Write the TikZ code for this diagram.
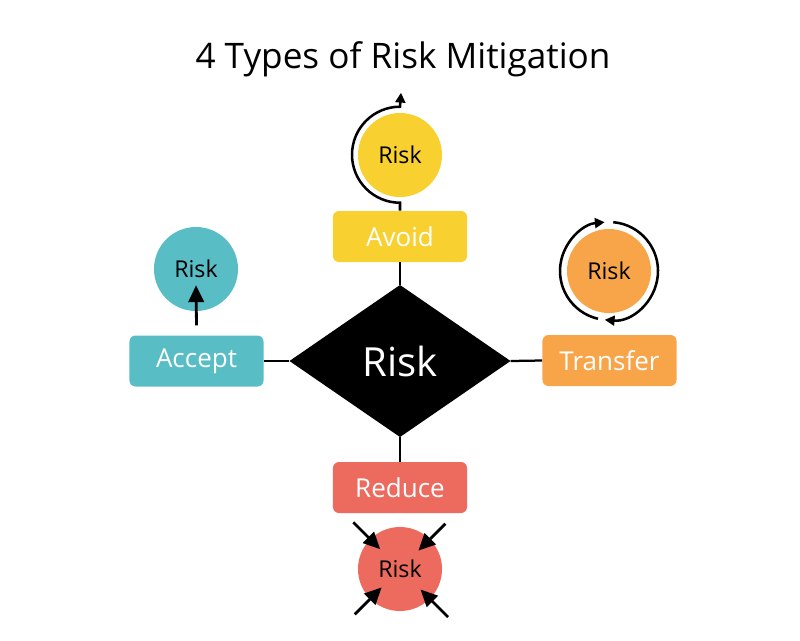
\documentclass[tikz,border=0pt]{standalone}
\usepackage{fontspec}
\setmainfont{Open Sans}
\usetikzlibrary{shapes.geometric,arrows.meta,positioning}

\definecolor{avoidyellow}{HTML}{F8D02F}
\definecolor{acceptteal}{HTML}{58BDC5}
\definecolor{transferorange}{HTML}{F8A54A}
\definecolor{reducecoral}{HTML}{EC6B5E}

\tikzset{
  box/.style={rectangle, rounded corners=0.15cm, minimum width=3.35cm, minimum height=1.275cm, inner sep=0pt, text=white, font=\fontsize{18.5}{20}\selectfont},
  riskball/.style={circle, minimum size=2.1cm, inner sep=0pt, text=black, font=\fontsize{16.5}{18}\selectfont},
  link/.style={line width=1.6pt},
  bigtip/.style={line width=2pt, -{Triangle[length=12pt,width=11pt]}},
  smalltip/.style={line width=1.8pt, -{Triangle[length=7pt,width=7pt]}}
}

\begin{document}
\begin{tikzpicture}[x=0.025cm,y=0.025cm]
\useasboundingbox (0,0) rectangle (800,-640);

\node[anchor=base, font=\fontsize{25}{30}\selectfont] (title) at (403,-68) {4 Types of Risk Mitigation};

\node[diamond, fill=black, text=white, minimum width=5.525cm, minimum height=3.8cm, aspect=1.45, inner sep=0pt, outer sep=0pt, font=\fontsize{28.5}{30}\selectfont] (risk) at (400,-361) {Risk};

\node[box, fill=avoidyellow] (avoid) at (400,-236.5) {Avoid};
\node[box, fill=acceptteal] (accept) at (196.5,-361) {Accept};
\node[box, fill=transferorange] (transfer) at (609.5,-360.5) {Transfer};
\node[box, fill=reducecoral] (reduce) at (400,-487.5) {Reduce};

\node[riskball, fill=avoidyellow] (avoidrisk) at (400,-155) {Risk};
\node[riskball, fill=acceptteal] (acceptrisk) at (196,-269) {Risk};
\node[riskball, fill=transferorange] (transferrisk) at (609,-271) {Risk};
\node[riskball, fill=reducecoral] (reducerisk) at (400,-569) {Risk};

\draw[link] (risk.north) -- (avoid.south);
\draw[link] (risk.west) -- (accept.east);
\draw[link] (risk.east) -- (transfer.west);
\draw[link] (risk.south) -- (reduce.north);

\draw[smalltip] (avoid.north) -- ++(0,8) arc[start angle=270, end angle=90, radius=48] -- ++(1,14);

\draw[bigtip] ([yshift=7pt]accept.north) -- ([yshift=18.5pt]acceptrisk.south);

\draw[smalltip] ([shift={(85:49)}]transferrisk.center) arc[start angle=85, end angle=-95, radius=49];
\draw[smalltip] ([shift={(-103:49)}]transferrisk.center) arc[start angle=-103, end angle=-265, radius=49];

\draw[bigtip] ([shift={(135:66)}]reducerisk.center) -- ([shift={(135:28)}]reducerisk.center);
\draw[bigtip] ([shift={(45:64)}]reducerisk.center) -- ([shift={(45:26)}]reducerisk.center);
\draw[bigtip] ([shift={(225:64)}]reducerisk.center) -- ([shift={(225:26)}]reducerisk.center);
\draw[bigtip] ([shift={(315:68)}]reducerisk.center) -- ([shift={(315:29)}]reducerisk.center);

\end{tikzpicture}
\end{document}
